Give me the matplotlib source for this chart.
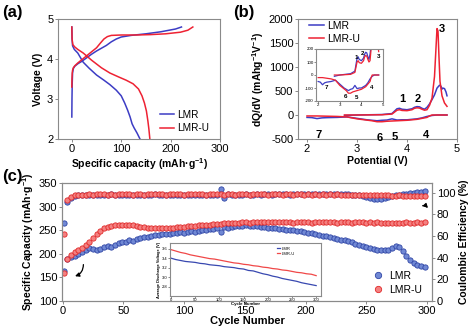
import matplotlib
matplotlib.use("Agg")
import matplotlib.pyplot as plt

plt.rcParams['font.family'] = ['Liberation Sans', 'DejaVu Sans']
plt.rcParams['mathtext.fontset'] = 'custom'
plt.rcParams['mathtext.rm'] = 'Liberation Sans:bold'
plt.rcParams['mathtext.default'] = 'rm'
plt.rcParams['axes.unicode_minus'] = False

BLUE = '#3c3cc4'
RED = '#ee2233'

# ---------------- (a) charge / discharge profiles ----------------
lmr_chg_cap = [0, 0.3, 0.8, 1.5, 3, 6, 12, 20, 30, 40, 50, 60, 70, 80, 90, 100, 120, 150, 180, 210, 222]
lmr_chg_v = [2.55, 3.0, 3.4, 3.65, 3.76, 3.82, 3.88, 3.94, 4.03, 4.12, 4.2, 4.27, 4.34, 4.43, 4.5, 4.55, 4.59, 4.63, 4.68, 4.75, 4.8]
lmru_chg_cap = [0, 0.3, 0.8, 1.5, 3, 6, 12, 20, 30, 40, 50, 58, 65, 72, 80, 100, 130, 160, 190, 220, 235, 245]
lmru_chg_v = [3.3, 3.5, 3.65, 3.72, 3.78, 3.83, 3.9, 3.98, 4.08, 4.18, 4.28, 4.4, 4.5, 4.56, 4.59, 4.6, 4.6, 4.61, 4.63, 4.67, 4.72, 4.8]
lmr_dis_cap = [0, 0.5, 1.5, 5, 12, 23, 35, 50, 65, 77, 90, 100, 107, 113, 118, 122, 126, 132, 138]
lmr_dis_v = [4.8, 4.5, 4.33, 4.24, 4.15, 3.92, 3.77, 3.6, 3.47, 3.36, 3.22, 3.08, 2.9, 2.72, 2.55, 2.38, 2.28, 2.15, 2.0]
lmru_dis_cap = [0, 0.5, 2, 6, 12, 23, 40, 60, 77, 95, 110, 124, 135, 142, 147, 151, 154, 156, 158]
lmru_dis_v = [4.8, 4.5, 4.36, 4.3, 4.24, 4.15, 3.97, 3.78, 3.65, 3.55, 3.47, 3.38, 3.25, 3.08, 2.9, 2.7, 2.45, 2.25, 2.0]

# ---------------- (b) dQ/dV ----------------
lmr_chg_pot = [2.75, 3.0, 3.5, 3.7, 3.75, 3.8, 3.85, 3.9, 4.0, 4.1, 4.15, 4.2, 4.25, 4.3, 4.35, 4.4, 4.45,
               4.5, 4.55, 4.6, 4.65, 4.68, 4.7, 4.72, 4.75, 4.78, 4.8]
lmr_chg_dqdv = [-10, 0, 10, 30, 80, 130, 140, 120, 110, 130, 160, 175, 170, 140, 120, 160, 230,
                320, 420, 560, 620, 600, 540, 560, 550, 480, 400]
lmru_chg_pot = [2.75, 3.0, 3.5, 3.7, 3.75, 3.8, 3.85, 3.9, 4.0, 4.1, 4.15, 4.2, 4.25, 4.3, 4.35, 4.4, 4.45,
                4.5, 4.55, 4.58, 4.6, 4.62, 4.64, 4.66, 4.7, 4.75, 4.8]
lmru_chg_dqdv = [0, 0, 5, 20, 60, 100, 110, 95, 90, 110, 140, 150, 145, 120, 100, 110, 200,
                 350, 800, 1400, 1800, 1750, 1200, 700, 400, 250, 180]
lmr_dis_pot = [4.8, 4.6, 4.5, 4.4, 4.3, 4.2, 4.1, 4.0, 3.9, 3.8, 3.7, 3.6, 3.5, 3.4, 3.3, 3.2, 3.0,
               2.8, 2.6, 2.4, 2.3, 2.2, 2.1, 2.0]
lmr_dis_dqdv = [0, 0, -10, -30, -60, -80, -90, -100, -100, -105, -80, -105, -110, -120, -110, -100, -70,
                -40, -50, -55, -60, -75, -55, -50]
lmru_dis_pot = [4.8, 4.5, 4.45, 4.4, 4.3, 4.2, 4.0, 3.8, 3.6, 3.5, 3.4, 3.3, 3.0, 2.8, 2.6, 2.4, 2.2, 2.0]
lmru_dis_dqdv = [0, 0, -20, -50, -70, -90, -110, -120, -130, -140, -140, -120, -80, -40, -30, -25, -20, -20]

peak_ids = ['1', '2', '3', '4', '5', '6', '7']
peak_pot = [3.9, 4.22, 4.7, 4.38, 3.75, 3.46, 2.24]
peak_val = [330, 330, 1790, -420, -465, -470, -420]
inset_peak_pot = [3.78, 4.04, 4.78, 4.48, 3.78, 3.29, 2.4]
inset_peak_val = [136, 167, 141, -95, -175, -167, -97]

# ---------------- (c) cycling ----------------
cycles = list(range(1, 301, 3))
cap_lmr = [163, 190, 193, 196, 199, 204, 209, 213, 211, 207,
           210, 214, 217, 215, 219, 222, 224, 226, 229, 228,
           232, 234, 236, 235, 238, 240, 239, 241, 243, 242,
           244, 245, 246, 245, 247, 248, 247, 249, 250, 251,
           252, 253, 254, 246, 256, 254, 257, 258, 258, 259,
           260, 259, 258, 258, 257, 256, 255, 255, 254, 253,
           252, 251, 250, 250, 249, 248, 247, 245, 244, 242,
           240, 238, 237, 236, 234, 232, 230, 229, 227, 224,
           221, 219, 217, 214, 212, 210, 209, 208, 207, 209,
           213, 216, 214, 206, 196, 186, 180, 177, 174, 172]
cap_lmru = [160, 190, 198, 203, 207, 212, 219, 226, 234, 243,
            249, 254, 257, 259, 260, 260, 261, 261, 261, 260,
            258, 257, 256, 255, 255, 254, 254, 254, 255, 255,
            255, 256, 256, 257, 258, 258, 259, 260, 261, 262,
            262, 263, 264, 264, 265, 265, 266, 266, 266, 267,
            267, 266, 267, 268, 267, 268, 268, 267, 268, 267,
            268, 267, 268, 266, 268, 267, 268, 267, 266, 267,
            268, 267, 267, 268, 267, 266, 268, 268, 267, 266,
            267, 268, 267, 266, 267, 266, 267, 266, 265, 266,
            266, 265, 266, 266, 267, 266, 266, 267, 266, 267]
ce_lmr = [72, 91, 95.5, 97.0, 97.6, 97.9, 98.1, 97.8, 98.2, 98.0,
          98.3, 97.9, 98.1, 98.4, 98.0, 98.2, 97.9, 98.3, 98.1, 98.0,
          98.2, 97.9, 98.3, 98.0, 98.1, 98.4, 97.9, 98.2, 98.0, 98.3,
          98.1, 97.8, 98.2, 98.0, 98.3, 98.1, 97.9, 98.2, 98.0, 98.3,
          98.1, 98.2, 97.9, 103.5, 95.5, 98.4, 98.1, 98.3, 98.0, 98.2,
          98.4, 98.1, 98.3, 98.5, 98.2, 98.4, 98.6, 98.3, 98.5, 98.7,
          98.4, 98.6, 98.3, 98.5, 98.7, 98.4, 98.6, 98.8, 98.5, 98.7,
          98.9, 98.6, 98.8, 99.1, 98.7, 99.0, 98.6, 98.8, 98.5, 98.3,
          98.0, 97.6, 97.2, 96.5, 95.5, 94.5, 93.8, 94.6, 95.2, 96.0,
          96.8, 97.5, 98.2, 98.8, 99.3, 99.8, 100.2, 100.5, 101.0, 101.5]
ce_lmru = [62, 93, 96.5, 97.5, 98.0, 98.3, 98.0, 98.5, 98.2, 98.6,
           98.4, 98.7, 98.3, 98.6, 98.2, 98.5, 98.8, 98.4, 98.6, 98.3,
           98.7, 98.5, 98.2, 98.6, 98.8, 98.4, 98.5, 98.7, 98.3, 98.6,
           98.4, 98.7, 98.5, 98.2, 98.6, 98.8, 98.4, 98.5, 98.7, 98.3,
           98.6, 98.4, 98.7, 98.5, 98.2, 98.6, 98.4, 98.3, 98.7, 98.5,
           98.6, 98.3, 98.5, 98.7, 98.4, 98.6, 98.2, 98.5, 98.7, 98.4,
           98.3, 98.6, 98.5, 98.2, 98.4, 98.6, 98.3, 98.5, 98.1, 98.4,
           98.2, 98.5, 98.3, 98.6, 98.1, 98.4, 98.2, 98.0, 98.3, 98.1,
           97.9, 98.2, 97.8, 98.0, 97.7, 97.9, 97.6, 97.8, 97.5, 97.7,
           97.4, 97.2, 97.5, 97.1, 97.3, 97.0, 96.8, 97.1, 96.7, 96.6]

volt_cycles = list(range(0, 301, 10))
avg_v_lmr = [3.40, 3.37, 3.35, 3.33, 3.32, 3.31, 3.29, 3.28, 3.26, 3.25, 3.24, 3.22, 3.21, 3.20, 3.18, 3.17,
             3.14, 3.13, 3.10, 3.07, 3.05, 3.02, 3.00, 2.97, 2.95, 2.93, 2.91, 2.88, 2.86, 2.84, 2.82]
avg_v_lmru = [3.58, 3.55, 3.52, 3.50, 3.47, 3.45, 3.43, 3.41, 3.39, 3.38, 3.36, 3.34, 3.32, 3.30, 3.29, 3.27,
              3.26, 3.24, 3.23, 3.21, 3.20, 3.18, 3.17, 3.15, 3.14, 3.12, 3.10, 3.09, 3.07, 3.06, 3.03]

# ---------------- figure ----------------
W, H = 474, 326
fig = plt.figure(figsize=(W / 100, H / 100), dpi=100)


def rect(l, t, r, b):
    return [l / W, 1 - b / H, (r - l) / W, (b - t) / H]


def style(ax, fs=8, length=2.2):
    for s in ax.spines.values():
        s.set_color('#8a8a8a')
        s.set_linewidth(0.8)
    ax.tick_params(direction='out', length=length, width=0.7, color='#8a8a8a', labelsize=fs, pad=1.2)


LBL = dict(fontsize=7.5, fontweight='bold')

# (a)
axa = fig.add_axes(rect(58, 19, 220, 139))
axa.plot(lmr_chg_cap, lmr_chg_v, color=BLUE, lw=1.1)
axa.plot(lmr_dis_cap, lmr_dis_v, color=BLUE, lw=1.1, label='LMR')
axa.plot(lmru_chg_cap, lmru_chg_v, color=RED, lw=1.1)
axa.plot(lmru_dis_cap, lmru_dis_v, color=RED, lw=1.1, label='LMR-U')
axa.set_xlim(-28, 300)
axa.set_ylim(2, 5)
axa.set_xticks([0, 100, 200, 300])
axa.set_yticks([2, 3, 4, 5])
style(axa)
axa.set_xlabel('Specific capacity (mAh·g$^{-1}$)', labelpad=2, **LBL)
axa.set_ylabel('Voltage (V)', labelpad=3, **LBL)
axa.legend(loc='lower right', frameon=False, fontsize=7.2, handlelength=1.4, handletextpad=0.3,
           labelspacing=0.35, borderaxespad=0.2, bbox_to_anchor=(0.97, 0.0))
fig.text(2 / W, 1 - 12 / H, '(a)', fontsize=12, fontweight='bold', va='center')

# (b)
axb = fig.add_axes(rect(298, 19, 457, 139))
axb.plot(lmr_chg_pot, lmr_chg_dqdv, color=BLUE, lw=1.1, label='LMR')
axb.plot(lmr_dis_pot, lmr_dis_dqdv, color=BLUE, lw=1.1)
axb.plot(lmru_chg_pot, lmru_chg_dqdv, color=RED, lw=1.1, label='LMR-U')
axb.plot(lmru_dis_pot, lmru_dis_dqdv, color=RED, lw=1.1)
axb.set_xlim(1.82, 5)
axb.set_ylim(-500, 2000)
axb.set_xticks([2, 3, 4, 5])
axb.set_yticks([-500, 0, 500, 1000, 1500, 2000])
style(axb)
axb.set_xlabel('Potential (V)', labelpad=2, **LBL)
axb.set_ylabel('dQ/dV (mAhg$^{-1}$V$^{-1}$)', labelpad=2, **LBL)
for t, x, y in zip(peak_ids, peak_pot, peak_val):
    axb.text(x, y, t, fontsize=8, fontweight='bold', ha='center', va='center')
axb.legend(loc='upper left', frameon=False, fontsize=7.5, handlelength=1.5, handletextpad=0.3,
           labelspacing=0.3, borderaxespad=0.0, bbox_to_anchor=(0.04, 1.02))
fig.text(233 / W, 1 - 12 / H, '(b)', fontsize=12, fontweight='bold', va='center')

axbi = fig.add_axes(rect(316, 49, 383, 101))
axbi.plot(lmr_chg_pot, lmr_chg_dqdv, color=BLUE, lw=0.9)
axbi.plot(lmr_dis_pot, lmr_dis_dqdv, color=BLUE, lw=0.9)
axbi.plot(lmru_chg_pot, lmru_chg_dqdv, color=RED, lw=0.9)
axbi.plot(lmru_dis_pot, lmru_dis_dqdv, color=RED, lw=0.9)
axbi.set_xlim(1.9, 5)
axbi.set_ylim(-200, 200)
axbi.set_xticks([2, 3, 4, 5])
axbi.set_yticks([-200, -100, 0, 100, 200])
style(axbi, fs=3.2, length=1.2)
axbi.tick_params(pad=0.5)
for t, x, y in zip(peak_ids, inset_peak_pot, inset_peak_val):
    axbi.text(x, y, t, fontsize=4.5, fontweight='bold', ha='center', va='center')

# (c)
axc = fig.add_axes(rect(62, 183, 432, 301))
axr = axc.twinx()
mk = dict(marker='o', ms=3.8, mew=0.6, ls='none')
axc.plot(cycles, cap_lmr, mfc='#7088d4', mec='#2f45a5', label='LMR', **mk)
axc.plot(cycles, cap_lmru, mfc='#f48080', mec='#e02828', label='LMR-U', **mk)
axr.plot(cycles, ce_lmr, mfc='#7088d4', mec='#2f45a5', **mk)
axr.plot(cycles, ce_lmru, mfc='#f48080', mec='#e02828', **mk)
axc.set_xlim(-0.5, 304)
axc.set_ylim(100, 350)
axr.set_ylim(0, 109)
axc.set_xticks([0, 50, 100, 150, 200, 250, 300])
axc.set_yticks([100, 150, 200, 250, 300, 350])
axr.set_yticks([0, 20, 40, 60, 80, 100])
style(axc)
style(axr)
axc.set_xlabel('Cycle Number', labelpad=0.5, fontsize=8, fontweight='bold')
axc.set_ylabel('Specific Capacity (mAh·g$^{-1}$)', labelpad=2, **LBL)
axr.set_ylabel('Coulombic Efficiency (%)', labelpad=3, **LBL)
axc.legend(loc='lower right', frameon=False, fontsize=7.5, handletextpad=0.1, labelspacing=0.35,
           borderaxespad=0.2, markerscale=1.2, bbox_to_anchor=(0.99, 0.0))
axc.annotate('', xy=(8, 151), xytext=(17, 183),
             arrowprops=dict(arrowstyle='-|>', color='black', lw=0.9, mutation_scale=6,
                             connectionstyle='arc3,rad=-0.45'))
axc.annotate('', xy=(302, 292), xytext=(294, 301),
             arrowprops=dict(arrowstyle='-|>', color='black', lw=0.9, mutation_scale=6,
                             connectionstyle='arc3,rad=-0.4'))
fig.text(2 / W, 1 - 177 / H, '(c)', fontsize=12, fontweight='bold', va='center')

axci = fig.add_axes(rect(170, 243, 321, 296))
axci.plot(volt_cycles, avg_v_lmr, color='#3848b0', lw=0.9, label='LMR')
axci.plot(volt_cycles, avg_v_lmru, color='#f04848', lw=0.9, label='LMR-U')
axci.set_xlim(-2, 310)
axci.set_ylim(2.6, 3.72)
axci.set_xticks([0, 50, 100, 150, 200, 250, 300])
axci.set_yticks([2.8, 3.0, 3.2, 3.4, 3.6])
axci.set_yticklabels(['2.8', '3.0', '3.2', '3.4', '3.6'])
style(axci, fs=3, length=1.2)
axci.tick_params(pad=0.5)
axci.set_xlabel('Cycle Number', fontsize=3.2, fontweight='bold', labelpad=0)
axci.set_ylabel('Average Discharge Voltage (V)', fontsize=2.8, fontweight='bold', labelpad=1)
axci.legend(loc='upper right', frameon=False, fontsize=3, handlelength=0.6, handletextpad=0.4,
            labelspacing=0.2, bbox_to_anchor=(0.85, 1.0))

fig.savefig('out.png', dpi=100)
